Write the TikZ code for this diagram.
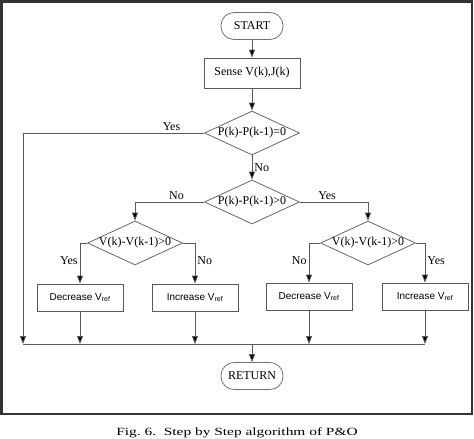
\documentclass[tikz,border=0pt]{standalone}
\usepackage{fontspec}
\setmainfont{Liberation Serif}
\setsansfont{Liberation Sans}
\usetikzlibrary{arrows.meta,shapes.geometric}
\tikzset{
	line/.style={draw=black!65, line width=0.8pt},
	arr/.style={line, -{Triangle[length=8pt,width=6pt,fill=black]}},
	term/.style={draw=black!55, line width=0.8pt, rectangle, rounded corners=13pt, minimum width=62pt, minimum height=27pt, inner sep=0pt, font=\fontsize{12}{14}\selectfont},
	proc/.style={draw=black!65, line width=0.8pt, rectangle, minimum width=96pt, minimum height=30pt, inner sep=0pt, font=\fontsize{12}{14}\selectfont},
	act/.style={draw=black!65, line width=0.8pt, rectangle, minimum width=86pt, minimum height=27pt, inner sep=0pt, font=\sffamily\fontsize{10}{12}\selectfont},
	dec/.style={draw=black!60, line width=0.8pt, diamond, aspect=2.15, minimum width=95pt, minimum height=44pt, inner sep=0pt, font=\fontsize{12}{14}\selectfont},
	lab/.style={font=\fontsize{12}{14}\selectfont, inner sep=2pt}
}
\newcommand{\vref}{V\textsubscript{ref}}
\newcommand{\dtext}[1]{\makebox[0pt]{#1}}
\begin{document}
\begin{tikzpicture}[x=1pt, y=-1pt]
			%%%%% FRAME %%%%%
			\useasboundingbox (0,0) rectangle (474,439);
			\draw[line width=2.5pt, black!80] (1.5,1.5) rectangle (472,414);
			
			%%%%% NODES %%%%%
			\node[term] (start) at (252,26) {START};
			\node[proc] (sense) at (252,73) {Sense V(k),J(k)};
			\node[dec] (dzero) at (252,133) {\dtext{P(k)-P(k-1)=0}};
			\node[dec] (dpos) at (252,202) {\dtext{P(k)-P(k-1)>0}};
			
			\node[dec] (dvl) at (135,243) {\dtext{V(k)-V(k-1)>0}};
			\node[dec] (dvr) at (368,243) {\dtext{V(k)-V(k-1)>0}};
			
			\node[act] (decl) at (80,297.5) {Decrease \vref};
			\node[act] (incl) at (195,297.5) {Increase \vref};
			\node[act] (decr) at (309,296.5) {Decrease \vref};
			\node[act] (incr) at (425,296.5) {Increase \vref};
			
			\node[term] (ret) at (252,376) {RETURN};
			
			\coordinate (byl) at (23,133);
			\coordinate (join) at (252,344);
			
			%%%%% CONNECTORS %%%%%
			\draw[arr] (start) -- (sense);
			\draw[arr] (sense) -- (dzero);
			\draw[arr] (dzero) -- node[lab, right] {No} (dpos);
			\draw[arr] (dzero.west) -- node[lab, above, pos=0.18] {Yes} (byl) -- (byl |- join);
			
			\draw[arr] (dpos.west) -| node[lab, above, pos=0.2] {No} (dvl.north);
			\draw[arr] (dpos.east) -| node[lab, above, pos=0.2] {Yes} (dvr.north);
			
			\draw[arr] (dvl.west) -| node[lab, left, pos=0.72] {Yes} (decl.north);
			\draw[arr] (dvl.east) -| node[lab, right, pos=0.72] {No} (incl.north);
			\draw[arr] (dvr.west) -| node[lab, left, pos=0.72] {No} (decr.north);
			\draw[arr] (dvr.east) -| node[lab, right, pos=0.72] {Yes} (incr.north);
			
			\draw[arr] (decl) -- (decl |- join);
			\draw[arr] (incl) -- (incl |- join);
			\draw[arr] (decr) -- (decr |- join);
			\draw[arr] (incr) -- (incr |- join);
			
			\draw[line] (byl |- join) -- (incr |- join);
			\draw[arr] (join) -- (ret);
			
			%%%%% CAPTION %%%%%
			\node[anchor=base, font=\fontsize{11}{13}\selectfont, inner sep=0pt] (cap) at (237,435.5) {\scalebox{1.4}[1]{Fig.~6.\ \ Step by Step algorithm of P\&O}};
\end{tikzpicture}
\end{document}
